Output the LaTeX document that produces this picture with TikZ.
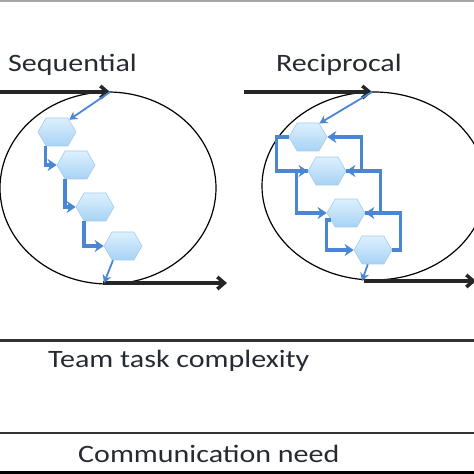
\documentclass[tikz,border=0pt]{standalone}
\usepackage{fontspec}
\setmainfont[FakeStretch=1.2]{Carlito}
\usetikzlibrary{shapes.symbols,arrows.meta}
\definecolor{flowblue}{HTML}{4A86D3}
\definecolor{hextop}{HTML}{DDF0FD}
\definecolor{hexbot}{HTML}{A7D3F5}
\definecolor{hexline}{HTML}{A3CBEE}
\definecolor{textgray}{HTML}{262B33}
\definecolor{rulegray}{HTML}{333333}

\begin{document}
\begin{tikzpicture}[x=1pt,y=1pt,
    hexa/.style={signal, signal to=east and west, signal pointer angle=120,
      minimum width=38pt, minimum height=28pt, inner sep=0pt,
      top color=hextop, bottom color=hexbot, draw=hexline, line width=0.6pt},
    flow/.style={flowblue, line width=3.4pt, -{Stealth[length=9pt,width=12pt]}},
    feed/.style={flowblue, line width=1.8pt, -{Stealth[length=8pt,width=9pt]}},
    bigarrow/.style={black!85, line width=3.5pt, -{Straight Barb[length=7pt,width=12pt]}},
    tasktext/.style={textgray, font=\fontsize{25}{30}\selectfont, inner sep=0pt}]
    \useasboundingbox (0,0) rectangle (474,474);
    \clip (0,0) rectangle (474,474);

    % Rules across the page
    \draw[gray!70, line width=2pt] (0,473) -- (474,473);
    \draw[rulegray, line width=3pt] (0,133) -- (474,133);
    \draw[rulegray, line width=2pt] (0,41) -- (474,41);
    \draw[black, line width=3pt] (0,1) -- (474,1);

    % Titles and captions
    \node[tasktext, anchor=base west] (seq) at (8,402) {Sequential};
    \node[tasktext, anchor=base west] (rec) at (276,402) {Reciprocal};
    \node[tasktext, anchor=base west] (cplx) at (48,106) {Team task complexity};
    \node[tasktext, anchor=base west] (comm) at (78,12) {Communication need};

    % The two task ellipses
    \draw[line width=1.2pt] (108,286) ellipse [x radius=108, y radius=96];
    \draw[line width=1.2pt] (374,288) ellipse [x radius=112, y radius=94];

    % Input and output arrows
    \coordinate (seqin) at (110,382);
    \coordinate (seqout) at (104,191);
    \coordinate (recin) at (372,382);
    \coordinate (recout) at (362,193);
    \draw[bigarrow] (0,382) -- (seqin);
    \draw[bigarrow] (103,191) -- (227,191);
    \draw[bigarrow] (244,382) -- (recin);
    \draw[bigarrow] (364,193) -- (476,193);

    % Sequential steps
    \node[hexa] (h1) at (57,342) {};
    \node[hexa] (h2) at (76,309) {};
    \node[hexa] (h3) at (95,267) {};
    \node[hexa] (h4) at (123,228) {};
    \draw[feed] (seqin) -- (h1.45);
    \draw[flow] (h1.230) |- (h2.west);
    \draw[flow] (h2.232) |- (h3.west);
    \draw[flow] (h3.232) |- (h4.west);
    \draw[feed] (h4.235) -- (seqout);

    % Reciprocal steps
    \node[hexa] (r1) at (308,337) {};
    \node[hexa] (r2) at (327,303) {};
    \node[hexa] (r3) at (346,261) {};
    \node[hexa] (r4) at (373,224) {};
    \draw[feed] (recin) -- (r1.50);
    % forward loops on the left
    \draw[flow] (r1.west) -- ++(-12,0) |- (r2.west);
    \draw[flow] (r2.west) -- ++(-11,0) |- (r3.west);
    \draw[flow] (r3.205) -- ++(-4,0) |- (r4.west);
    % backward loops on the right
    \draw[flow] (r2.east) -- ++(15,0) |- (r1.east);
    \draw[flow] (r3.east) -- ++(15,0) |- (r2.east);
    \draw[flow] (r4.east) -- ++(8,0) |- (r3.east);
    \draw[feed] (r4.250) -- (recout);

\end{tikzpicture}
\end{document}
